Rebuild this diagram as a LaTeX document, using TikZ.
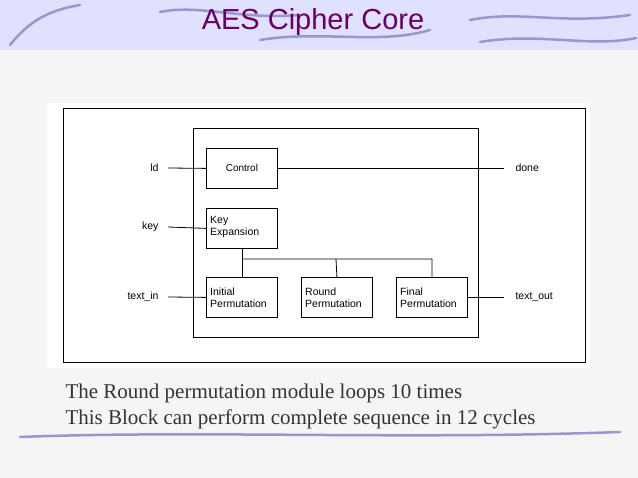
\documentclass[tikz,border=0pt]{standalone}
\usepackage{fontspec}
\setmainfont{Liberation Serif}
\newfontfamily\sfx{Liberation Sans}
\begin{document}
\begin{tikzpicture}[x=1pt,y=-1pt,
  blk/.style={draw,line width=0.8pt,fill=white,minimum width=71pt,minimum height=40pt,inner sep=3pt,font=\sfx\fontsize{10}{11}\selectfont,align=left},
  lbl/.style={font=\sfx\fontsize{10.5}{12}\selectfont},
  wire/.style={line width=0.8pt},
  wave/.style={line width=2.5pt,color=blue!35!gray!60,line cap=round}]
\useasboundingbox (0,0) rectangle (638,478);
\fill[gray!8] (0,0) rectangle (638,478);
\fill[blue!12] (0,0) rectangle (638,50);
\draw[wave] (10,45) .. controls (30,20) and (50,10) .. (80,5);
\draw[wave] (160,12) .. controls (200,4) and (240,20) .. (300,15);
\draw[wave] (260,40) .. controls (320,30) and (380,45) .. (430,30);
\draw[wave] (470,20) .. controls (520,10) and (560,25) .. (630,15);
\draw[wave] (480,42) .. controls (540,32) and (590,48) .. (636,38);
\draw[wave] (20,437) .. controls (200,430) and (400,440) .. (620,432);
\node[font=\sfx\fontsize{29}{32}\selectfont,text=violet!80!black] at (313,22) {AES Cipher Core};
\fill[white] (47,103) rectangle (590,368);
\draw[line width=0.9pt] (63,108) rectangle (585,362);
\draw[line width=0.9pt] (193,128) rectangle (478,337);
\node[blk,anchor=north west,align=center] (ctl) at (206,148) {Control};
\node[blk,anchor=north west] (kex) at (206,208) {};
\node[blk,anchor=north west] (ini) at (206,277) {};
\node[blk,anchor=north west] (rnd) at (301,277) {};
\node[blk,anchor=north west] (fin) at (396,277) {};
\node[lbl,anchor=north west,align=left,inner sep=0pt] at (210,216) {Key\\Expansion};
\node[lbl,anchor=north west,align=left,inner sep=0pt] at (210,288) {Initial\\Permutation};
\node[lbl,anchor=north west,align=left,inner sep=0pt] at (305,288) {Round\\Permutation};
\node[lbl,anchor=north west,align=left,inner sep=0pt] at (400,288) {Final\\Permutation};
\node[lbl,anchor=east] (ld) at (162,168) {ld};
\node[lbl,anchor=east] (key) at (162,227) {key};
\node[lbl,anchor=east] (tin) at (162,297) {text\_in};
\node[lbl,anchor=west] (done) at (512,168) {done};
\node[lbl,anchor=west] (tout) at (512,297) {text\_out};
\draw[wire] (ld.east)++(6,0) -- (ctl.west);
\draw[wire] (key.east)++(6,0) -- (kex.west);
\draw[wire] (tin.east)++(6,0) -- (ini.west);
\draw[wire] (ctl.east) -- ++(226,0);
\draw[wire] (fin.east) -- ++(36,0);
\draw[wire] (kex.south) -- (ini.north);
\draw[wire] (242,259) -- (432,259) -- (fin.north);
\draw[wire] (336,259) -- (rnd.north);
\node[anchor=west,font=\fontsize{21}{25}\selectfont,text=black!80] at (62,393) {The Round permutation module loops 10 times};
\node[anchor=west,font=\fontsize{21}{25}\selectfont,text=black!80] at (62,419) {This Block can perform complete sequence in 12 cycles};
\end{tikzpicture}
\end{document}
